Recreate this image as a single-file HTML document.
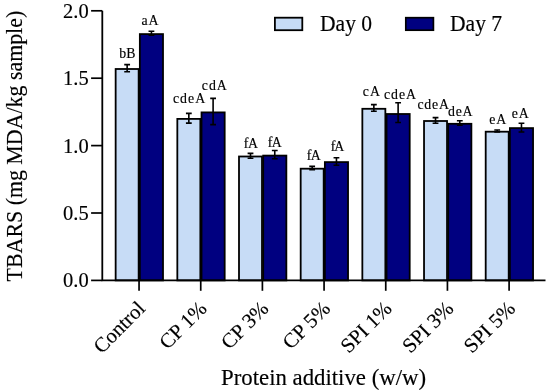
<!DOCTYPE html>
<html><head><meta charset="utf-8"><style>
html,body{margin:0;padding:0;background:#fff;}
svg{display:block;}
text{font-family:"Liberation Serif",serif;fill:#000;stroke:#000;stroke-width:0.15px;}
.lab{font-size:13.8px;}
.tick{font-size:20.7px;}
.ytick{font-size:20.5px;}
.axl{font-size:21.9px;}
.axl2{font-size:22.8px;}
.leg{font-size:21.6px;}
</style></head><body>
<svg width="550" height="392" viewBox="0 0 550 392">
<rect x="115.65" y="69.00" width="23.00" height="211.40" fill="#C7DCF6" stroke="#000" stroke-width="1.8"/>
<path d="M127.15 64.60V71.70M124.25 64.60H130.05M124.25 71.70H130.05" stroke="#000" stroke-width="1.6" fill="none"/>
<text x="127.40" y="57.90" text-anchor="middle" textLength="16.10" class="lab">bB</text>
<rect x="139.85" y="34.10" width="23.15" height="246.30" fill="#000080" stroke="#000" stroke-width="1.8"/>
<path d="M151.43 31.30V35.30M148.53 31.30H154.33M148.53 35.30H154.33" stroke="#000" stroke-width="1.6" fill="none"/>
<text x="150.00" y="24.90" text-anchor="middle" textLength="16.79" class="lab">aA</text>
<rect x="177.33" y="118.90" width="23.00" height="161.50" fill="#C7DCF6" stroke="#000" stroke-width="1.8"/>
<path d="M188.83 113.40V123.10M185.93 113.40H191.73M185.93 123.10H191.73" stroke="#000" stroke-width="1.6" fill="none"/>
<text x="189.05" y="103.30" text-anchor="middle" textLength="32.09" class="lab">cdeA</text>
<rect x="201.53" y="112.40" width="23.15" height="168.00" fill="#000080" stroke="#000" stroke-width="1.8"/>
<path d="M213.10 98.40V124.60M210.20 98.40H216.00M210.20 124.60H216.00" stroke="#000" stroke-width="1.6" fill="none"/>
<text x="214.25" y="89.50" text-anchor="middle" textLength="24.89" class="lab">cdA</text>
<rect x="239.00" y="156.50" width="23.00" height="123.90" fill="#C7DCF6" stroke="#000" stroke-width="1.8"/>
<path d="M250.50 153.40V158.30M247.60 153.40H253.40M247.60 158.30H253.40" stroke="#000" stroke-width="1.6" fill="none"/>
<text x="250.80" y="147.50" text-anchor="middle" textLength="14.09" class="lab">fA</text>
<rect x="263.20" y="155.60" width="23.15" height="124.80" fill="#000080" stroke="#000" stroke-width="1.8"/>
<path d="M274.77 150.50V158.70M271.88 150.50H277.67M271.88 158.70H277.67" stroke="#000" stroke-width="1.6" fill="none"/>
<text x="274.80" y="146.90" text-anchor="middle" textLength="13.99" class="lab">fA</text>
<rect x="300.68" y="168.70" width="23.00" height="111.70" fill="#C7DCF6" stroke="#000" stroke-width="1.8"/>
<path d="M312.18 166.40V169.60M309.28 166.40H315.07M309.28 169.60H315.07" stroke="#000" stroke-width="1.6" fill="none"/>
<text x="313.70" y="159.60" text-anchor="middle" textLength="13.99" class="lab">fA</text>
<rect x="324.88" y="162.10" width="23.15" height="118.30" fill="#000080" stroke="#000" stroke-width="1.8"/>
<path d="M336.45 157.70V165.30M333.55 157.70H339.35M333.55 165.30H339.35" stroke="#000" stroke-width="1.6" fill="none"/>
<text x="337.50" y="151.00" text-anchor="middle" textLength="13.39" class="lab">fA</text>
<rect x="362.35" y="108.80" width="23.00" height="171.60" fill="#C7DCF6" stroke="#000" stroke-width="1.8"/>
<path d="M373.85 104.60V111.20M370.95 104.60H376.75M370.95 111.20H376.75" stroke="#000" stroke-width="1.6" fill="none"/>
<text x="371.40" y="95.80" text-anchor="middle" textLength="17.09" class="lab">cA</text>
<rect x="386.55" y="114.00" width="23.15" height="166.40" fill="#000080" stroke="#000" stroke-width="1.8"/>
<path d="M398.12 102.70V122.50M395.23 102.70H401.02M395.23 122.50H401.02" stroke="#000" stroke-width="1.6" fill="none"/>
<text x="400.00" y="99.30" text-anchor="middle" textLength="31.89" class="lab">cdeA</text>
<rect x="424.03" y="121.00" width="23.00" height="159.40" fill="#C7DCF6" stroke="#000" stroke-width="1.8"/>
<path d="M435.53 117.60V123.30M432.63 117.60H438.43M432.63 123.30H438.43" stroke="#000" stroke-width="1.6" fill="none"/>
<text x="433.20" y="108.70" text-anchor="middle" textLength="31.59" class="lab">cdeA</text>
<rect x="448.23" y="123.80" width="23.15" height="156.60" fill="#000080" stroke="#000" stroke-width="1.8"/>
<path d="M459.80 120.80V125.30M456.90 120.80H462.70M456.90 125.30H462.70" stroke="#000" stroke-width="1.6" fill="none"/>
<text x="460.25" y="115.70" text-anchor="middle" textLength="24.49" class="lab">deA</text>
<rect x="485.70" y="131.70" width="23.00" height="148.70" fill="#C7DCF6" stroke="#000" stroke-width="1.8"/>
<path d="M497.20 130.00V132.00M494.30 130.00H500.10M494.30 132.00H500.10" stroke="#000" stroke-width="1.6" fill="none"/>
<text x="497.70" y="123.70" text-anchor="middle" textLength="16.89" class="lab">eA</text>
<rect x="509.90" y="128.10" width="23.15" height="152.30" fill="#000080" stroke="#000" stroke-width="1.8"/>
<path d="M521.47 123.20V132.00M518.57 123.20H524.37M518.57 132.00H524.37" stroke="#000" stroke-width="1.6" fill="none"/>
<text x="520.30" y="117.60" text-anchor="middle" textLength="16.89" class="lab">eA</text>
<path d="M139.05 280.40V290.80" stroke="#000" stroke-width="1.7"/>
<text x="146.35" y="309.70" text-anchor="end" transform="rotate(-45 146.35 309.70)" class="tick">Control</text>
<path d="M200.73 280.40V290.80" stroke="#000" stroke-width="1.7"/>
<text x="208.03" y="309.70" text-anchor="end" transform="rotate(-45 208.03 309.70)" class="tick">CP 1%</text>
<path d="M262.40 280.40V290.80" stroke="#000" stroke-width="1.7"/>
<text x="269.70" y="309.70" text-anchor="end" transform="rotate(-45 269.70 309.70)" class="tick">CP 3%</text>
<path d="M324.07 280.40V290.80" stroke="#000" stroke-width="1.7"/>
<text x="331.38" y="309.70" text-anchor="end" transform="rotate(-45 331.38 309.70)" class="tick">CP 5%</text>
<path d="M385.75 280.40V290.80" stroke="#000" stroke-width="1.7"/>
<text x="393.05" y="309.70" text-anchor="end" transform="rotate(-45 393.05 309.70)" class="tick">SPI 1%</text>
<path d="M447.43 280.40V290.80" stroke="#000" stroke-width="1.7"/>
<text x="454.73" y="309.70" text-anchor="end" transform="rotate(-45 454.73 309.70)" class="tick">SPI 3%</text>
<path d="M509.10 280.40V290.80" stroke="#000" stroke-width="1.7"/>
<text x="516.40" y="309.70" text-anchor="end" transform="rotate(-45 516.40 309.70)" class="tick">SPI 5%</text>
<path d="M102.3 10.8V280.4H545.5" stroke="#000" stroke-width="1.8" fill="none"/>
<path d="M91.1 280.40H102.3" stroke="#000" stroke-width="1.7"/>
<text x="88.7" y="287.30" text-anchor="end" class="ytick">0.0</text>
<path d="M91.1 213.00H102.3" stroke="#000" stroke-width="1.7"/>
<text x="88.7" y="219.90" text-anchor="end" class="ytick">0.5</text>
<path d="M91.1 145.60H102.3" stroke="#000" stroke-width="1.7"/>
<text x="88.7" y="152.50" text-anchor="end" class="ytick">1.0</text>
<path d="M91.1 78.20H102.3" stroke="#000" stroke-width="1.7"/>
<text x="88.7" y="85.10" text-anchor="end" class="ytick">1.5</text>
<path d="M91.1 10.80H102.3" stroke="#000" stroke-width="1.7"/>
<text x="88.7" y="17.70" text-anchor="end" class="ytick">2.0</text>
<text transform="translate(21.7 146.1) rotate(-90) scale(1 1.08)" text-anchor="middle" class="axl">TBARS (mg MDA/kg sample)</text>
<text transform="translate(323.56 385.4) scale(1 1.05)" text-anchor="middle" class="axl2">Protein additive (w/w)</text>
<rect x="274.9" y="17.7" width="27.4" height="12.5" fill="#C7DCF6" stroke="#000" stroke-width="1.8"/>
<text transform="translate(320 30.7) scale(1 1.075)" class="leg">Day 0</text>
<rect x="405.8" y="17.7" width="27.6" height="12.5" fill="#000080" stroke="#000" stroke-width="1.7"/>
<text transform="translate(450 30.7) scale(1 1.075)" class="leg">Day 7</text>
</svg>
</body></html>
